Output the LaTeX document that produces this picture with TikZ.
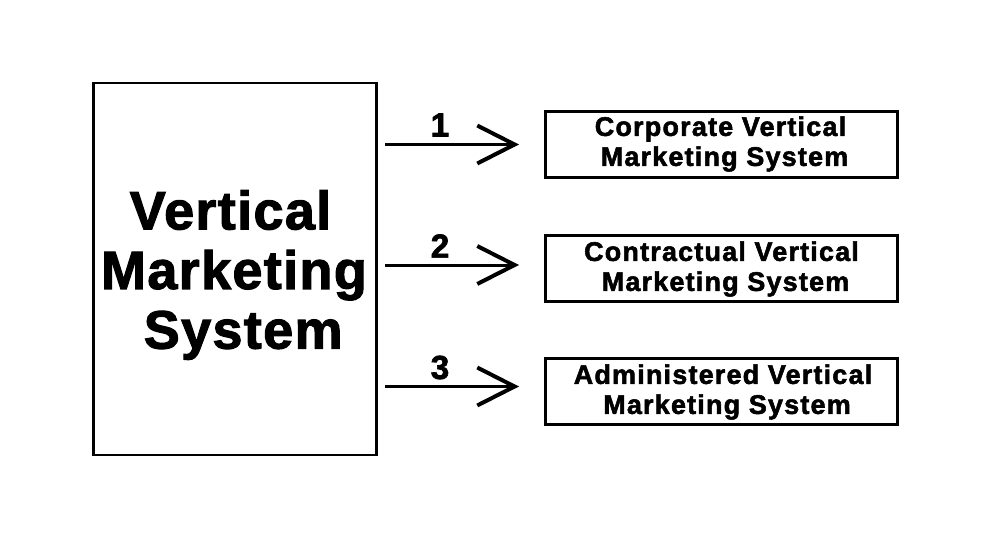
\documentclass[tikz,border=0pt]{standalone}
\usepackage{fontspec}
\setmainfont{Liberation Sans}
\usetikzlibrary{arrows.meta, positioning}
\tikzset{
  mainbox/.style={draw, line width=1.8pt, minimum width=212.25pt, minimum height=279pt, inner sep=0pt},
  typebox/.style={draw, line width=1.8pt, minimum width=264pt, minimum height=49.5pt, inner sep=0pt},
  maintext/.style={inner sep=0pt, font=\fontsize{40.5}{44.7}\selectfont\bfseries\addfontfeature{LetterSpace=2.5,FakeBold=2}, align=left},
  typetext/.style={inner sep=0pt, font=\fontsize{20.2}{22.5}\selectfont\bfseries\addfontfeature{LetterSpace=4.5,FakeBold=2}, align=center},
  numlabel/.style={inner sep=0pt, font=\fontsize{25}{28}\selectfont\bfseries\addfontfeature{FakeBold=2}},
  openarrow/.style={line width=2.25pt, -{Straight Barb[length=28pt,width=28.5pt,line width=3pt]}}
}
\begin{document}
\begin{tikzpicture}[x=0.75pt,y=0.75pt,yscale=-1,xscale=1]
\useasboundingbox (0,0) rectangle (1000,550);

% Main box
\node [mainbox] (vms) at (235,269) {};
\node [maintext] (vmstext) at (234,275) {\hspace*{21.5pt}Vertical\\Marketing\\\hspace*{32pt}System};

% Right boxes
\node [typebox] (corp) at (721.5,144.5) {};
\node [typebox] (contr) at (721.5,268.5) {};
\node [typebox] (admin) at (721.5,391.5) {};
\node [typetext] (corptext) at (720.5,144) {Corporate Vertical\\\hspace*{6pt}Marketing System};
\node [typetext] (contrtext) at (721.5,269) {Contractual Vertical\\\hspace*{6pt}Marketing System};
\node [typetext] (admintext) at (723,392) {Administered Vertical\\\hspace*{6pt}Marketing System};

% Free ends
\coordinate (s1) at (385,144.5);
\coordinate (s2) at (385,265);
\coordinate (s3) at (385,386.5);
\coordinate (e1) at (519,144.5);
\coordinate (e2) at (519,265);
\coordinate (e3) at (519,386.5);

\draw [openarrow] (s1) -- (e1);
\draw [openarrow] (s2) -- (e2);
\draw [openarrow] (s3) -- (e3);

% Numbers
\node [numlabel] (n1) at (440,125) {1};
\node [numlabel] (n2) at (440,246) {2};
\node [numlabel] (n3) at (440,367.5) {3};
\end{tikzpicture}
\end{document}
